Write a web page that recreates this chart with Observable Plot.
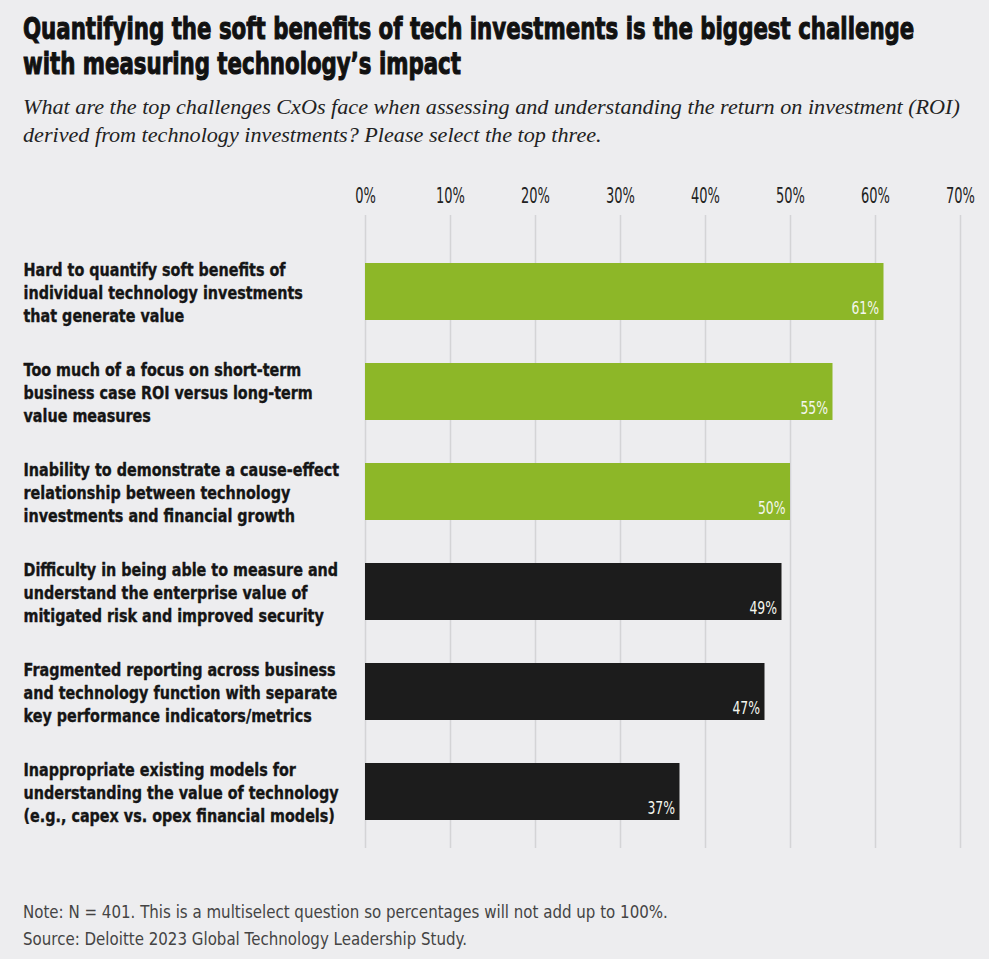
<!DOCTYPE html>
<html><head><meta charset="utf-8">
<script src="https://cdn.jsdelivr.net/npm/d3@7"></script>
<script src="https://cdn.jsdelivr.net/npm/@observablehq/plot@0.6"></script>
<style>
html,body{margin:0;padding:0;}
body{background:#ededef;width:989px;height:959px;overflow:hidden;position:relative;}
.blk{position:absolute;left:23px;white-space:nowrap;}
.blk span{display:inline-block;transform-origin:0 50%;}
.title{top:11px;font-family:"DejaVu Sans",sans-serif;font-weight:700;font-size:30px;line-height:35px;color:#111;-webkit-text-stroke:1.1px #111;}
.sub{top:93px;font-family:"Liberation Serif","DejaVu Serif",serif;font-style:italic;font-size:21px;line-height:28px;color:#222;}
.foot{top:899px;font-family:"DejaVu Sans",sans-serif;font-size:17px;line-height:27px;color:#444;}
#chart{position:absolute;left:0;top:170px;}
</style>
</head><body>
<div class="blk title" data-w="891"><span>Quantifying the soft benefits of tech investments is the biggest challenge</span><br><span>with measuring technology’s impact</span></div>
<div class="blk sub" data-w="937"><span>What are the top challenges CxOs face when assessing and understanding the return on investment (ROI)</span><br><span>derived from technology investments? Please select the top three.</span></div>
<div id="chart"></div>
<div class="blk foot" data-w="645"><span>Note: N = 401. This is a multiselect question so percentages will not add up to 100%.</span><br><span>Source: Deloitte 2023 Global Technology Leadership Study.</span></div>
<script>
const categories = [
  "Hard to quantify soft benefits of\nindividual technology investments\nthat generate value",
  "Too much of a focus on short-term\nbusiness case ROI versus long-term\nvalue measures",
  "Inability to demonstrate a cause-effect\nrelationship between technology\ninvestments and financial growth",
  "Difficulty in being able to measure and\nunderstand the enterprise value of\nmitigated risk and improved security",
  "Fragmented reporting across business\nand technology function with separate\nkey performance indicators/metrics",
  "Inappropriate existing models for\nunderstanding the value of technology\n(e.g., capex vs. opex financial models)"
];
const values = [61, 55, 50, 49, 47, 37];
const colors = ["#8db728", "#8db728", "#8db728", "#1c1c1c", "#1c1c1c", "#1c1c1c"];
const ticks = [0, 10, 20, 30, 40, 50, 60, 70];
const tickLabels = ["0%", "10%", "20%", "30%", "40%", "50%", "60%", "70%"];

const data = categories.map((c, i) => ({cat: c, value: values[i], color: colors[i]}));
const font = '"DejaVu Sans",sans-serif';

const chart = Plot.plot({
  width: 989,
  height: 700,
  marginLeft: 365,
  marginRight: 29,
  marginTop: 45,
  marginBottom: 22,
  style: {background: "transparent", fontFamily: font, fontSize: "18px", color: "#222"},
  x: {domain: [0, 70], label: null},
  y: {domain: categories, paddingInner: 0.43, paddingOuter: 0.38, align: 0.632, axis: null},
  color: {type: "identity"},
  marks: [
    Plot.gridX(ticks, {stroke: "#d4d4d6", strokeOpacity: 1, strokeWidth: 1.5}),
    Plot.axisX(ticks, {anchor: "top", tickSize: 0, tickPadding: 13, fontSize: 21, fill: "#222",
      tickFormat: d => tickLabels[ticks.indexOf(d)], label: null}),
    Plot.barX(data, {x: "value", y: "cat", fill: "color"}),
    Plot.text(data, {y: "cat", text: "cat", frameAnchor: "left", dx: -342, textAnchor: "start",
      lineAnchor: "top", dy: -32, fontSize: 17.5, fontWeight: 700, lineHeight: 1.31, fill: "#151515",
      stroke: "#151515", strokeWidth: 0.4}),
    Plot.text(data, {x: "value", y: "cat", text: d => d.value + "%", textAnchor: "end", dx: -5,
      dy: 22, lineAnchor: "bottom", fill: "#f4f6ee", fontSize: 17.5})
  ]
});
document.getElementById("chart").appendChild(chart);

// condensed look: horizontal compression of each text about its own anchor
function condense(t, k) {
  const tr = t.getAttribute("transform");
  if (tr) {
    t.setAttribute("transform", tr + ` scale(${k},1)`);
  } else {
    const x = +(t.getAttribute("x") || 0);
    t.setAttribute("transform", `translate(${x},0) scale(${k},1) translate(${-x},0)`);
  }
}
chart.querySelectorAll("text").forEach(t => {
  const s = t.textContent;
  const g = t.closest("g");
  const isAxis = g && /axis/.test(g.getAttribute("aria-label") || "");
  if (isAxis) condense(t, 0.62);
  else if (/^\d+%$/.test(s)) condense(t, 0.71);
  else condense(t, 0.82);
});

// fit header/footer lines to the reference widths
document.querySelectorAll(".blk").forEach(b => {
  const spans = b.querySelectorAll("span");
  const k = +b.dataset.w / spans[0].offsetWidth;
  spans.forEach(s => s.style.transform = `scaleX(${k})`);
});
</script>
</body></html>
